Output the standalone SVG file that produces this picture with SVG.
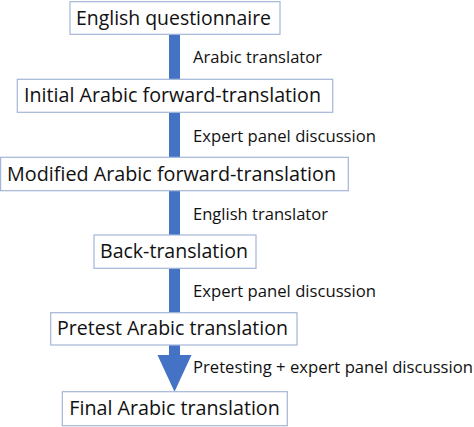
<svg xmlns="http://www.w3.org/2000/svg" width="474" height="427" viewBox="0 0 474 427">
<style>
.box{fill:#ffffff;stroke:#a3b6d9;stroke-width:1.2}
.bt{font-family:"Open Sans","Noto Sans",sans-serif;font-size:19.6px;fill:#111111}
.lt{font-family:"Open Sans","Noto Sans",sans-serif;font-size:16.5px;fill:#111111}
.bar{fill:#4472c4}
</style>
<rect width="474" height="427" fill="#ffffff"/>
<g id="connectors">
<rect class="bar" x="169" y="34" width="11" height="46"/>
<rect class="bar" x="169" y="112" width="11" height="46"/>
<rect class="bar" x="169" y="190" width="11" height="46"/>
<rect class="bar" x="169" y="268" width="11" height="46"/>
<polygon class="bar" points="169,344 180,344 180,355 191.5,355 174.5,391.7 157.5,355 169,355"/>
<text class="lt" x="193" y="63.3" textLength="129" lengthAdjust="spacingAndGlyphs">Arabic translator</text>
<text class="lt" x="193" y="141.5" textLength="183" lengthAdjust="spacingAndGlyphs">Expert panel discussion</text>
<text class="lt" x="193" y="220" textLength="135" lengthAdjust="spacingAndGlyphs">English translator</text>
<text class="lt" x="193" y="297" textLength="183" lengthAdjust="spacingAndGlyphs">Expert panel discussion</text>
<text class="lt" x="193" y="373.3" textLength="280" lengthAdjust="spacingAndGlyphs">Pretesting + expert panel discussion</text>
</g>
<g id="n1">
<rect class="box" x="70" y="1.7" width="210" height="32.6"/>
<text class="bt" x="76" y="25" textLength="195" lengthAdjust="spacingAndGlyphs">English questionnaire</text>
</g>
<g id="n2">
<rect class="box" x="17.3" y="79.3" width="315.4" height="33"/>
<text class="bt" x="24" y="102" textLength="297" lengthAdjust="spacingAndGlyphs">Initial Arabic forward-translation</text>
</g>
<g id="n3">
<rect class="box" x="0.6" y="157.3" width="347.7" height="33.4"/>
<text class="bt" x="7" y="181" textLength="329" lengthAdjust="spacingAndGlyphs">Modified Arabic forward-translation</text>
</g>
<g id="n4">
<rect class="box" x="94" y="235" width="162" height="33.3"/>
<text class="bt" x="100" y="258" textLength="148" lengthAdjust="spacingAndGlyphs">Back-translation</text>
</g>
<g id="n5">
<rect class="box" x="50.7" y="312.7" width="246.3" height="32.3"/>
<text class="bt" x="57" y="335" textLength="231" lengthAdjust="spacingAndGlyphs">Pretest Arabic translation</text>
</g>
<g id="n6">
<rect class="box" x="62.3" y="391.7" width="225" height="34"/>
<text class="bt" x="69.3" y="415" textLength="210.5" lengthAdjust="spacingAndGlyphs">Final Arabic translation</text>
</g>
</svg>
